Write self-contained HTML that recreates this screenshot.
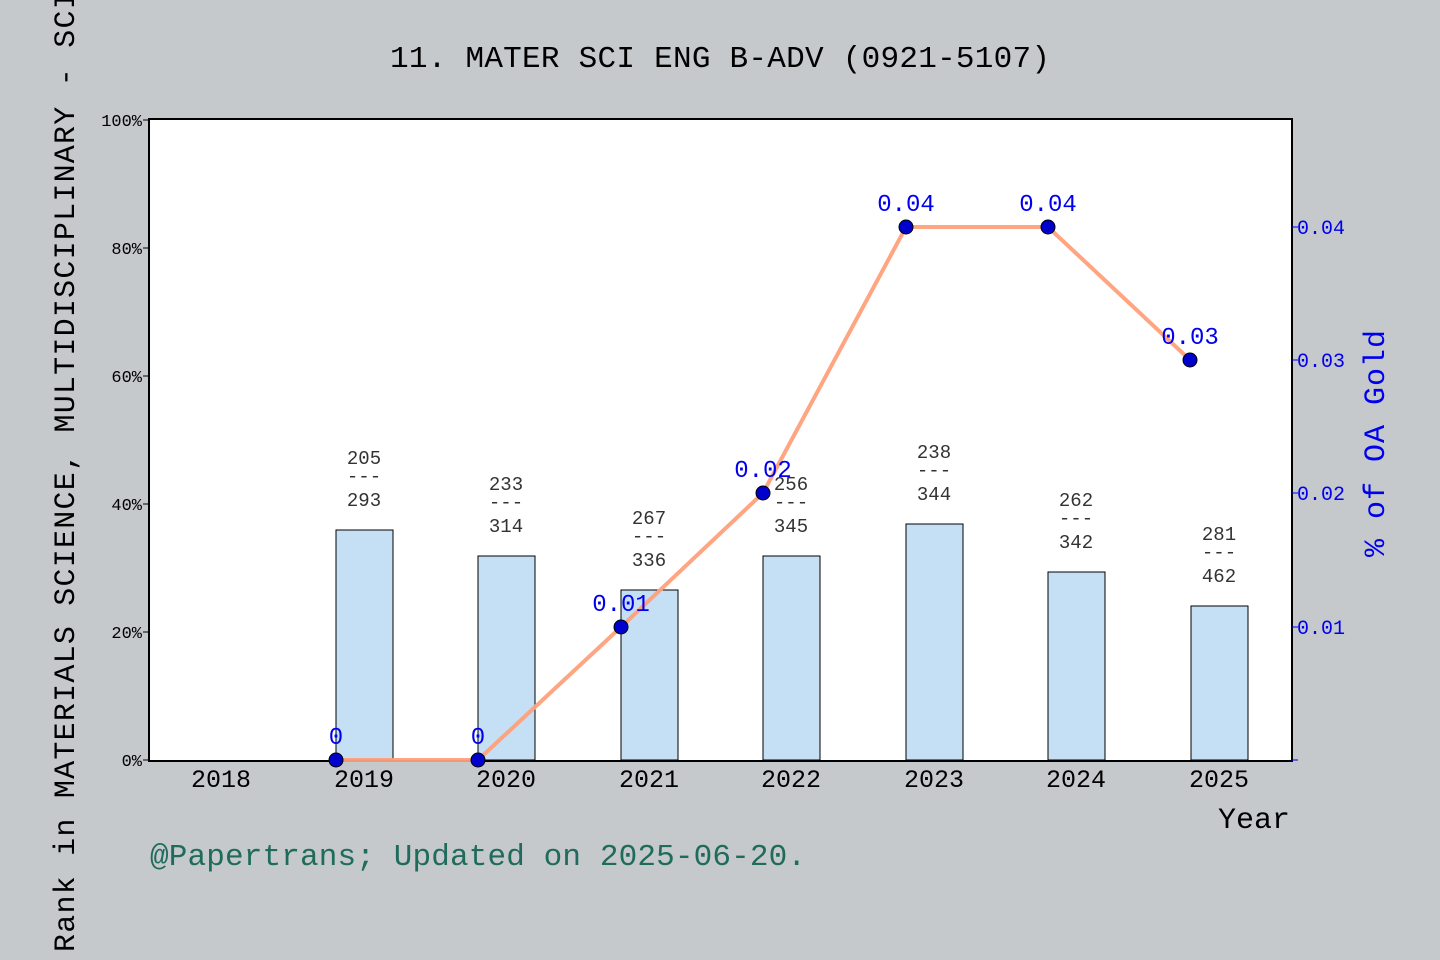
<!DOCTYPE html>
<html><head><meta charset="utf-8"><style>
html,body{margin:0;padding:0;background:#c5c9cc;}
svg{display:block;}
text{font-family:"Liberation Mono","WenQuanYi Zen Hei",monospace;}
.s{font-family:"Liberation Sans","WenQuanYi Zen Hei",sans-serif;}
</style></head><body>
<svg width="1440" height="960" viewBox="0 0 1440 960" xmlns="http://www.w3.org/2000/svg">
<rect width="1440" height="960" fill="#c5c9cc"/>
<text x="720" y="67" font-size="31" text-anchor="middle" textLength="660" fill="#000">11. MATER SCI ENG B-ADV (0921-5107)</text>
<rect x="149" y="119" width="1143" height="642" fill="#fff" stroke="#000" stroke-width="2"/>
<!-- bars -->
<g fill="#c5dff5" stroke="#000" stroke-width="1">
<rect x="336" y="530" width="57" height="230"/>
<rect x="478" y="556" width="57" height="204"/>
<rect x="621" y="590" width="57" height="170"/>
<rect x="763" y="556" width="57" height="204"/>
<rect x="906" y="524" width="57" height="236"/>
<rect x="1048" y="572" width="57" height="188"/>
<rect x="1191" y="606" width="57" height="154"/>
</g>
<!-- bar labels -->
<g class="s" font-size="19" fill="#333" text-anchor="middle">
<text x="364" y="464">205</text><text x="364" y="482">---</text><text x="364" y="506">293</text>
<text x="506" y="490">233</text><text x="506" y="508">---</text><text x="506" y="532">314</text>
<text x="649" y="524">267</text><text x="649" y="542">---</text><text x="649" y="566">336</text>
<text x="791" y="490">256</text><text x="791" y="508">---</text><text x="791" y="532">345</text>
<text x="934" y="458">238</text><text x="934" y="476">---</text><text x="934" y="500">344</text>
<text x="1076" y="506">262</text><text x="1076" y="524">---</text><text x="1076" y="548">342</text>
<text x="1219" y="540">281</text><text x="1219" y="558">---</text><text x="1219" y="582">462</text>
</g>
<!-- line -->
<polyline points="336,760 478,760 621,627 763,493 906,227 1048,227 1190,360" fill="none" stroke="#ffa07a" stroke-width="4" stroke-opacity="0.95"/>
<g fill="#0000cc" stroke="#000" stroke-width="1">
<circle cx="336" cy="760" r="7"/><circle cx="478" cy="760" r="7"/><circle cx="621" cy="627" r="7"/>
<circle cx="763" cy="493" r="7"/><circle cx="906" cy="227" r="7"/><circle cx="1048" cy="227" r="7"/><circle cx="1190" cy="360" r="7"/>
</g>
<g font-size="24" fill="#0000ee" text-anchor="middle">
<text x="336" y="744">0</text><text x="478" y="744">0</text><text x="621" y="611">0.01</text>
<text x="763" y="477">0.02</text><text x="906" y="211">0.04</text><text x="1048" y="211">0.04</text><text x="1190" y="344">0.03</text>
</g>
<!-- left axis -->
<g stroke="#000" stroke-width="1">
<line x1="143" y1="760" x2="149" y2="760"/><line x1="143" y1="632" x2="149" y2="632"/><line x1="143" y1="504" x2="149" y2="504"/>
<line x1="143" y1="376" x2="149" y2="376"/><line x1="143" y1="248" x2="149" y2="248"/><line x1="143" y1="120" x2="149" y2="120"/>
</g>
<g class="s" font-size="17" fill="#000" text-anchor="end">
<text x="142" y="766">0%</text><text x="142" y="638">20%</text><text x="142" y="510">40%</text>
<text x="142" y="382">60%</text><text x="142" y="254">80%</text><text x="142" y="126">100%</text>
</g>
<!-- right axis -->
<g stroke="#0000ee" stroke-width="1">
<line x1="1292" y1="627" x2="1298" y2="627"/><line x1="1292" y1="493" x2="1298" y2="493"/>
<line x1="1292" y1="360" x2="1298" y2="360"/><line x1="1292" y1="227" x2="1298" y2="227"/><line x1="1292" y1="760" x2="1298" y2="760"/>
</g>
<g font-size="20" fill="#0000ee">
<text x="1297" y="634">0.01</text><text x="1297" y="500">0.02</text><text x="1297" y="367">0.03</text><text x="1297" y="234">0.04</text>
</g>
<!-- x axis -->
<g class="s" font-size="25" fill="#000" text-anchor="middle">
<text x="221" y="787">2018</text><text x="364" y="787">2019</text><text x="506" y="787">2020</text><text x="649" y="787">2021</text>
<text x="791" y="787">2022</text><text x="934" y="787">2023</text><text x="1076" y="787">2024</text><text x="1219" y="787">2025</text>
</g>
<text x="1290" y="828" font-size="30" text-anchor="end" fill="#000">Year</text>
<text x="150" y="865" font-size="31" textLength="656" fill="#1f6b5c">@Papertrans; Updated on 2025-06-20.</text>
<text transform="translate(74,952) rotate(-90)" font-size="30" textLength="980" fill="#000">Rank in MATERIALS SCIENCE, MULTIDISCIPLINARY - SCIE</text>
<text transform="translate(1384,557) rotate(-90)" font-size="30" textLength="227" fill="#0000ee">% of OA Gold</text>
</svg>
</body></html>
